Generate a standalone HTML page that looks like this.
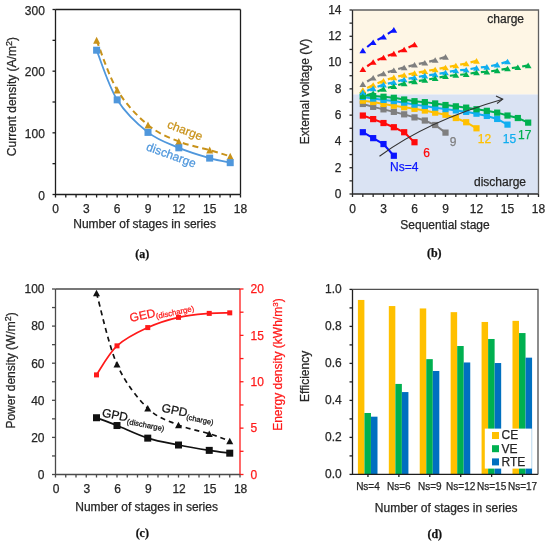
<!DOCTYPE html>
<html><head><meta charset="utf-8"><style>
html,body{margin:0;padding:0;background:#fff;width:550px;height:543px;overflow:hidden}
svg{display:block;filter:blur(0.3px)}
text{font-family:"Liberation Sans", sans-serif}
.ser{font-family:"Liberation Serif",serif;font-weight:bold}
</style></head><body>
<svg width="550" height="543" viewBox="0 0 550 543">
<path d="M55.5,9.5 L55.5,194.5 L240.5,194.5" stroke="#1e1e1e" stroke-width="1.3" fill="none"/><path d="M55.5,9.5 L240.5,9.5" stroke="#1e1e1e" stroke-width="1.3" fill="none"/><path d="M240.5,9.5 L240.5,194.5" stroke="#1e1e1e" stroke-width="1.3" fill="none"/>
<path d="M55.5,194.5 L52.5,194.5" stroke="#1e1e1e" stroke-width="1.3"/><path d="M55.5,163.67 L52.5,163.67" stroke="#1e1e1e" stroke-width="1.3"/><path d="M55.5,132.83 L52.5,132.83" stroke="#1e1e1e" stroke-width="1.3"/><path d="M55.5,102 L52.5,102" stroke="#1e1e1e" stroke-width="1.3"/><path d="M55.5,71.17 L52.5,71.17" stroke="#1e1e1e" stroke-width="1.3"/><path d="M55.5,40.33 L52.5,40.33" stroke="#1e1e1e" stroke-width="1.3"/><path d="M55.5,9.5 L52.5,9.5" stroke="#1e1e1e" stroke-width="1.3"/>
<path d="M55.5,194.5 L55.5,197.5" stroke="#1e1e1e" stroke-width="1.3"/><path d="M65.78,194.5 L65.78,197.5" stroke="#1e1e1e" stroke-width="1.3"/><path d="M76.06,194.5 L76.06,197.5" stroke="#1e1e1e" stroke-width="1.3"/><path d="M86.33,194.5 L86.33,197.5" stroke="#1e1e1e" stroke-width="1.3"/><path d="M96.61,194.5 L96.61,197.5" stroke="#1e1e1e" stroke-width="1.3"/><path d="M106.89,194.5 L106.89,197.5" stroke="#1e1e1e" stroke-width="1.3"/><path d="M117.17,194.5 L117.17,197.5" stroke="#1e1e1e" stroke-width="1.3"/><path d="M127.44,194.5 L127.44,197.5" stroke="#1e1e1e" stroke-width="1.3"/><path d="M137.72,194.5 L137.72,197.5" stroke="#1e1e1e" stroke-width="1.3"/><path d="M148,194.5 L148,197.5" stroke="#1e1e1e" stroke-width="1.3"/><path d="M158.28,194.5 L158.28,197.5" stroke="#1e1e1e" stroke-width="1.3"/><path d="M168.56,194.5 L168.56,197.5" stroke="#1e1e1e" stroke-width="1.3"/><path d="M178.83,194.5 L178.83,197.5" stroke="#1e1e1e" stroke-width="1.3"/><path d="M189.11,194.5 L189.11,197.5" stroke="#1e1e1e" stroke-width="1.3"/><path d="M199.39,194.5 L199.39,197.5" stroke="#1e1e1e" stroke-width="1.3"/><path d="M209.67,194.5 L209.67,197.5" stroke="#1e1e1e" stroke-width="1.3"/><path d="M219.94,194.5 L219.94,197.5" stroke="#1e1e1e" stroke-width="1.3"/><path d="M230.22,194.5 L230.22,197.5" stroke="#1e1e1e" stroke-width="1.3"/><path d="M240.5,194.5 L240.5,197.5" stroke="#1e1e1e" stroke-width="1.3"/>
<text x="44.9" y="199.6" font-size="12" fill="#262626" stroke="#262626" stroke-width="0.25" text-anchor="end" >0</text>
<text x="44.9" y="137.93" font-size="12" fill="#262626" stroke="#262626" stroke-width="0.25" text-anchor="end" >100</text>
<text x="44.9" y="76.27" font-size="12" fill="#262626" stroke="#262626" stroke-width="0.25" text-anchor="end" >200</text>
<text x="44.9" y="14.6" font-size="12" fill="#262626" stroke="#262626" stroke-width="0.25" text-anchor="end" >300</text>
<text x="55.5" y="213.3" font-size="12" fill="#262626" stroke="#262626" stroke-width="0.25" text-anchor="middle" >0</text>
<text x="86.33" y="213.3" font-size="12" fill="#262626" stroke="#262626" stroke-width="0.25" text-anchor="middle" >3</text>
<text x="117.17" y="213.3" font-size="12" fill="#262626" stroke="#262626" stroke-width="0.25" text-anchor="middle" >6</text>
<text x="148" y="213.3" font-size="12" fill="#262626" stroke="#262626" stroke-width="0.25" text-anchor="middle" >9</text>
<text x="178.83" y="213.3" font-size="12" fill="#262626" stroke="#262626" stroke-width="0.25" text-anchor="middle" >12</text>
<text x="209.67" y="213.3" font-size="12" fill="#262626" stroke="#262626" stroke-width="0.25" text-anchor="middle" >15</text>
<text x="240.5" y="213.3" font-size="12" fill="#262626" stroke="#262626" stroke-width="0.25" text-anchor="middle" >18</text>
<text x="144.6" y="227.8" font-size="12" fill="#262626" stroke="#262626" stroke-width="0.25" text-anchor="middle" >Number of stages in series</text>
<text transform="translate(15.7,96.6) rotate(-90)" font-size="12" fill="#262626" stroke="#262626" stroke-width="0.25" text-anchor="middle">Current density (A/m<tspan font-size="9" dy="-4">2</tspan><tspan dy="4">)</tspan></text>
<path d="M96.61,50.2 C100.04,58.47 108.6,86.14 117.17,99.84 C125.73,113.54 137.72,124.41 148,132.4 C158.28,140.4 168.56,143.53 178.83,147.82 C189.11,152.1 201.1,155.64 209.67,158.12 C218.23,160.59 226.8,161.92 230.22,162.68" stroke="#4f97dc" stroke-width="1.8" fill="none"/>
<path d="M96.61,40.33 C100.04,48.61 108.6,75.86 117.17,89.97 C125.73,104.09 137.72,116.42 148,125 C158.28,133.58 168.56,137.28 178.83,141.47 C189.11,145.65 201.1,147.63 209.67,150.1 C218.23,152.57 226.8,155.24 230.22,156.27" stroke="#c8921a" stroke-width="2" fill="none" stroke-dasharray="6,4"/>
<path d="M96.61,36.83 L93.11,43.83 L100.11,43.83 Z" fill="#c8921a"/>
<path d="M117.17,86.47 L113.67,93.47 L120.67,93.47 Z" fill="#c8921a"/>
<path d="M148,121.5 L144.5,128.5 L151.5,128.5 Z" fill="#c8921a"/>
<path d="M178.83,137.97 L175.33,144.97 L182.33,144.97 Z" fill="#c8921a"/>
<path d="M209.67,146.6 L206.17,153.6 L213.17,153.6 Z" fill="#c8921a"/>
<path d="M230.22,152.77 L226.72,159.77 L233.72,159.77 Z" fill="#c8921a"/>
<rect x="93.11" y="46.7" width="7" height="7" fill="#4f97dc"/>
<rect x="113.67" y="96.34" width="7" height="7" fill="#4f97dc"/>
<rect x="144.5" y="128.9" width="7" height="7" fill="#4f97dc"/>
<rect x="175.33" y="144.32" width="7" height="7" fill="#4f97dc"/>
<rect x="206.17" y="154.62" width="7" height="7" fill="#4f97dc"/>
<rect x="226.72" y="159.18" width="7" height="7" fill="#4f97dc"/>
<text x="0" y="0" font-size="12" fill="#c8921a" stroke="#c8921a" stroke-width="0.25" text-anchor="start" transform="translate(166.5,127.5) rotate(21)">charge</text>
<text x="0" y="0" font-size="12" fill="#4f97dc" stroke="#4f97dc" stroke-width="0.25" text-anchor="start" transform="translate(145.5,150) rotate(20)">discharge</text>
<text x="142.2" y="258" class="ser" font-size="12" fill="#111" stroke="#111" stroke-width="0.25" text-anchor="middle">(a)</text>
<rect x="352.5" y="10" width="186" height="84.51" fill="#fef6e5"/>
<rect x="352.5" y="94.51" width="186" height="99.49" fill="#dae3f3"/>
<text x="341.5" y="197.9" font-size="12" fill="#262626" stroke="#262626" stroke-width="0.25" text-anchor="end" >0</text>
<text x="341.5" y="171.61" font-size="12" fill="#262626" stroke="#262626" stroke-width="0.25" text-anchor="end" >2</text>
<text x="341.5" y="145.33" font-size="12" fill="#262626" stroke="#262626" stroke-width="0.25" text-anchor="end" >4</text>
<text x="341.5" y="119.04" font-size="12" fill="#262626" stroke="#262626" stroke-width="0.25" text-anchor="end" >6</text>
<text x="341.5" y="92.76" font-size="12" fill="#262626" stroke="#262626" stroke-width="0.25" text-anchor="end" >8</text>
<text x="341.5" y="66.47" font-size="12" fill="#262626" stroke="#262626" stroke-width="0.25" text-anchor="end" >10</text>
<text x="341.5" y="40.19" font-size="12" fill="#262626" stroke="#262626" stroke-width="0.25" text-anchor="end" >12</text>
<text x="341.5" y="13.9" font-size="12" fill="#262626" stroke="#262626" stroke-width="0.25" text-anchor="end" >14</text>
<text x="352.5" y="213.3" font-size="12" fill="#262626" stroke="#262626" stroke-width="0.25" text-anchor="middle" >0</text>
<text x="383.5" y="213.3" font-size="12" fill="#262626" stroke="#262626" stroke-width="0.25" text-anchor="middle" >3</text>
<text x="414.5" y="213.3" font-size="12" fill="#262626" stroke="#262626" stroke-width="0.25" text-anchor="middle" >6</text>
<text x="445.5" y="213.3" font-size="12" fill="#262626" stroke="#262626" stroke-width="0.25" text-anchor="middle" >9</text>
<text x="476.5" y="213.3" font-size="12" fill="#262626" stroke="#262626" stroke-width="0.25" text-anchor="middle" >12</text>
<text x="507.5" y="213.3" font-size="12" fill="#262626" stroke="#262626" stroke-width="0.25" text-anchor="middle" >15</text>
<text x="538.5" y="213.3" font-size="12" fill="#262626" stroke="#262626" stroke-width="0.25" text-anchor="middle" >18</text>
<text x="445" y="229" font-size="12" fill="#262626" stroke="#262626" stroke-width="0.25" text-anchor="middle" >Sequential stage</text>
<text transform="translate(308.7,91.5) rotate(-90)" font-size="12" fill="#262626" stroke="#262626" stroke-width="0.25" text-anchor="middle">External voltage (V)</text>
<text x="524" y="23.3" font-size="12" fill="#262626" stroke="#262626" stroke-width="0.25" text-anchor="end" >charge</text>
<text x="526" y="186" font-size="12" fill="#262626" stroke="#262626" stroke-width="0.25" text-anchor="end" >discharge</text>
<path d="M362.83,132.23 L373.17,138.14 L383.5,144.06 L393.83,155.75" stroke="#0a14ff" stroke-width="2" fill="none"/>
<rect x="359.73" y="129.13" width="6.2" height="6.2" fill="#0a14ff"/>
<rect x="370.07" y="135.04" width="6.2" height="6.2" fill="#0a14ff"/>
<rect x="380.4" y="140.96" width="6.2" height="6.2" fill="#0a14ff"/>
<rect x="390.73" y="152.65" width="6.2" height="6.2" fill="#0a14ff"/>
<path d="M362.83,115.54 L373.17,119.09 L383.5,123.03 L393.83,127.23 L404.17,132.23 L414.5,142.22" stroke="#ff0a0a" stroke-width="2" fill="none"/>
<rect x="359.73" y="112.44" width="6.2" height="6.2" fill="#ff0a0a"/>
<rect x="370.07" y="115.99" width="6.2" height="6.2" fill="#ff0a0a"/>
<rect x="380.4" y="119.93" width="6.2" height="6.2" fill="#ff0a0a"/>
<rect x="390.73" y="124.13" width="6.2" height="6.2" fill="#ff0a0a"/>
<rect x="401.07" y="129.13" width="6.2" height="6.2" fill="#ff0a0a"/>
<rect x="411.4" y="139.12" width="6.2" height="6.2" fill="#ff0a0a"/>
<path d="M362.83,103.97 L373.17,106.86 L383.5,109.36 L393.83,111.86 L404.17,114.35 L414.5,117.38 L424.83,120.53 L435.17,125 L445.5,132.62" stroke="#7f7f7f" stroke-width="2" fill="none"/>
<rect x="359.73" y="100.87" width="6.2" height="6.2" fill="#7f7f7f"/>
<rect x="370.07" y="103.76" width="6.2" height="6.2" fill="#7f7f7f"/>
<rect x="380.4" y="106.26" width="6.2" height="6.2" fill="#7f7f7f"/>
<rect x="390.73" y="108.76" width="6.2" height="6.2" fill="#7f7f7f"/>
<rect x="401.07" y="111.25" width="6.2" height="6.2" fill="#7f7f7f"/>
<rect x="411.4" y="114.28" width="6.2" height="6.2" fill="#7f7f7f"/>
<rect x="421.73" y="117.43" width="6.2" height="6.2" fill="#7f7f7f"/>
<rect x="432.07" y="121.9" width="6.2" height="6.2" fill="#7f7f7f"/>
<rect x="442.4" y="129.52" width="6.2" height="6.2" fill="#7f7f7f"/>
<path d="M362.83,100.69 L373.17,102 L383.5,103.97 L393.83,105.68 L404.17,107.26 L414.5,108.83 L424.83,110.54 L435.17,112.65 L445.5,114.75 L455.83,118.03 L466.17,122.24 L476.5,128.29" stroke="#ffc000" stroke-width="2" fill="none"/>
<rect x="359.73" y="97.59" width="6.2" height="6.2" fill="#ffc000"/>
<rect x="370.07" y="98.9" width="6.2" height="6.2" fill="#ffc000"/>
<rect x="380.4" y="100.87" width="6.2" height="6.2" fill="#ffc000"/>
<rect x="390.73" y="102.58" width="6.2" height="6.2" fill="#ffc000"/>
<rect x="401.07" y="104.16" width="6.2" height="6.2" fill="#ffc000"/>
<rect x="411.4" y="105.73" width="6.2" height="6.2" fill="#ffc000"/>
<rect x="421.73" y="107.44" width="6.2" height="6.2" fill="#ffc000"/>
<rect x="432.07" y="109.55" width="6.2" height="6.2" fill="#ffc000"/>
<rect x="442.4" y="111.65" width="6.2" height="6.2" fill="#ffc000"/>
<rect x="452.73" y="114.93" width="6.2" height="6.2" fill="#ffc000"/>
<rect x="463.07" y="119.14" width="6.2" height="6.2" fill="#ffc000"/>
<rect x="473.4" y="125.19" width="6.2" height="6.2" fill="#ffc000"/>
<path d="M362.83,97.01 L373.17,98.58 L383.5,99.9 L393.83,101.08 L404.17,102.66 L414.5,104.63 L424.83,105.94 L435.17,107.65 L445.5,109.1 L455.83,110.41 L466.17,111.86 L476.5,113.7 L486.83,115.93 L497.17,118.95 L507.5,124.61" stroke="#10aef0" stroke-width="2" fill="none"/>
<rect x="359.73" y="93.91" width="6.2" height="6.2" fill="#10aef0"/>
<rect x="370.07" y="95.48" width="6.2" height="6.2" fill="#10aef0"/>
<rect x="380.4" y="96.8" width="6.2" height="6.2" fill="#10aef0"/>
<rect x="390.73" y="97.98" width="6.2" height="6.2" fill="#10aef0"/>
<rect x="401.07" y="99.56" width="6.2" height="6.2" fill="#10aef0"/>
<rect x="411.4" y="101.53" width="6.2" height="6.2" fill="#10aef0"/>
<rect x="421.73" y="102.84" width="6.2" height="6.2" fill="#10aef0"/>
<rect x="432.07" y="104.55" width="6.2" height="6.2" fill="#10aef0"/>
<rect x="442.4" y="106" width="6.2" height="6.2" fill="#10aef0"/>
<rect x="452.73" y="107.31" width="6.2" height="6.2" fill="#10aef0"/>
<rect x="463.07" y="108.76" width="6.2" height="6.2" fill="#10aef0"/>
<rect x="473.4" y="110.6" width="6.2" height="6.2" fill="#10aef0"/>
<rect x="483.73" y="112.83" width="6.2" height="6.2" fill="#10aef0"/>
<rect x="494.07" y="115.85" width="6.2" height="6.2" fill="#10aef0"/>
<rect x="504.4" y="121.51" width="6.2" height="6.2" fill="#10aef0"/>
<path d="M362.83,95.17 L373.17,96.09 L383.5,96.74 L393.83,97.79 L404.17,99.5 L414.5,101.21 L424.83,102.13 L435.17,103.45 L445.5,105.02 L455.83,106.34 L466.17,107.65 L476.5,109.23 L486.83,110.81 L497.17,112.65 L507.5,115.54 L517.83,118.03 L528.17,122.63" stroke="#00b050" stroke-width="2" fill="none"/>
<rect x="359.73" y="92.07" width="6.2" height="6.2" fill="#00b050"/>
<rect x="370.07" y="92.99" width="6.2" height="6.2" fill="#00b050"/>
<rect x="380.4" y="93.64" width="6.2" height="6.2" fill="#00b050"/>
<rect x="390.73" y="94.69" width="6.2" height="6.2" fill="#00b050"/>
<rect x="401.07" y="96.4" width="6.2" height="6.2" fill="#00b050"/>
<rect x="411.4" y="98.11" width="6.2" height="6.2" fill="#00b050"/>
<rect x="421.73" y="99.03" width="6.2" height="6.2" fill="#00b050"/>
<rect x="432.07" y="100.35" width="6.2" height="6.2" fill="#00b050"/>
<rect x="442.4" y="101.92" width="6.2" height="6.2" fill="#00b050"/>
<rect x="452.73" y="103.24" width="6.2" height="6.2" fill="#00b050"/>
<rect x="463.07" y="104.55" width="6.2" height="6.2" fill="#00b050"/>
<rect x="473.4" y="106.13" width="6.2" height="6.2" fill="#00b050"/>
<rect x="483.73" y="107.71" width="6.2" height="6.2" fill="#00b050"/>
<rect x="494.07" y="109.55" width="6.2" height="6.2" fill="#00b050"/>
<rect x="504.4" y="112.44" width="6.2" height="6.2" fill="#00b050"/>
<rect x="514.73" y="114.93" width="6.2" height="6.2" fill="#00b050"/>
<rect x="525.07" y="119.53" width="6.2" height="6.2" fill="#00b050"/>
<path d="M367.17,47 L373.17,42.2 M377.51,39.88 L383.5,36.68 M387.84,33.81 L393.83,29.85 " stroke="#0a14ff" stroke-width="2.2" fill="none"/>
<path d="M362.83,47.68 L359.43,53.28 L366.23,53.28 Z" fill="#0a14ff"/>
<path d="M373.17,39.4 L369.77,45 L376.57,45 Z" fill="#0a14ff"/>
<path d="M383.5,33.88 L380.1,39.48 L386.9,39.48 Z" fill="#0a14ff"/>
<path d="M393.83,27.05 L390.43,32.65 L397.23,32.65 Z" fill="#0a14ff"/>
<path d="M367.17,66.24 L373.17,62.05 M377.51,60.11 L383.5,57.45 M387.84,55.84 L393.83,53.63 M398.17,51.92 L404.17,49.56 M408.51,47.41 L414.5,44.43 " stroke="#ff0a0a" stroke-width="2.2" fill="none"/>
<path d="M362.83,66.47 L359.43,72.07 L366.23,72.07 Z" fill="#ff0a0a"/>
<path d="M373.17,59.25 L369.77,64.85 L376.57,64.85 Z" fill="#ff0a0a"/>
<path d="M383.5,54.65 L380.1,60.25 L386.9,60.25 Z" fill="#ff0a0a"/>
<path d="M393.83,50.83 L390.43,56.43 L397.23,56.43 Z" fill="#ff0a0a"/>
<path d="M404.17,46.76 L400.77,52.36 L407.57,52.36 Z" fill="#ff0a0a"/>
<path d="M414.5,41.63 L411.1,47.23 L417.9,47.23 Z" fill="#ff0a0a"/>
<path d="M367.17,81.48 L373.17,77.82 M377.51,76 L383.5,73.48 M387.84,72.1 L393.83,70.19 M398.17,69.04 L404.17,67.43 M408.51,66.33 L414.5,64.81 M418.84,63.92 L424.83,62.7 M429.17,61.6 L435.17,60.07 M439.51,58.75 L445.5,56.92 " stroke="#7f7f7f" stroke-width="2.2" fill="none"/>
<path d="M362.83,81.33 L359.43,86.93 L366.23,86.93 Z" fill="#7f7f7f"/>
<path d="M373.17,75.02 L369.77,80.62 L376.57,80.62 Z" fill="#7f7f7f"/>
<path d="M383.5,70.68 L380.1,76.28 L386.9,76.28 Z" fill="#7f7f7f"/>
<path d="M393.83,67.39 L390.43,72.99 L397.23,72.99 Z" fill="#7f7f7f"/>
<path d="M404.17,64.63 L400.77,70.23 L407.57,70.23 Z" fill="#7f7f7f"/>
<path d="M414.5,62.01 L411.1,67.61 L417.9,67.61 Z" fill="#7f7f7f"/>
<path d="M424.83,59.9 L421.43,65.5 L428.23,65.5 Z" fill="#7f7f7f"/>
<path d="M435.17,57.27 L431.77,62.87 L438.57,62.87 Z" fill="#7f7f7f"/>
<path d="M445.5,54.12 L442.1,59.72 L448.9,59.72 Z" fill="#7f7f7f"/>
<path d="M367.17,87.94 L373.17,85.05 M377.51,83.28 L383.5,80.84 M387.84,79.4 L393.83,77.42 M398.17,76.43 L404.17,75.06 M408.51,74.23 L414.5,73.09 M418.84,72.31 L424.83,71.25 M429.17,70.53 L435.17,69.54 M439.51,68.65 L445.5,67.43 M449.84,66.61 L455.83,65.46 M460.17,64.63 L466.17,63.49 M470.51,62.39 L476.5,60.86 " stroke="#ffc000" stroke-width="2.2" fill="none"/>
<path d="M362.83,87.24 L359.43,92.84 L366.23,92.84 Z" fill="#ffc000"/>
<path d="M373.17,82.25 L369.77,87.85 L376.57,87.85 Z" fill="#ffc000"/>
<path d="M383.5,78.04 L380.1,83.64 L386.9,83.64 Z" fill="#ffc000"/>
<path d="M393.83,74.62 L390.43,80.22 L397.23,80.22 Z" fill="#ffc000"/>
<path d="M404.17,72.26 L400.77,77.86 L407.57,77.86 Z" fill="#ffc000"/>
<path d="M414.5,70.29 L411.1,75.89 L417.9,75.89 Z" fill="#ffc000"/>
<path d="M424.83,68.45 L421.43,74.05 L428.23,74.05 Z" fill="#ffc000"/>
<path d="M435.17,66.74 L431.77,72.34 L438.57,72.34 Z" fill="#ffc000"/>
<path d="M445.5,64.63 L442.1,70.23 L448.9,70.23 Z" fill="#ffc000"/>
<path d="M455.83,62.66 L452.43,68.26 L459.23,68.26 Z" fill="#ffc000"/>
<path d="M466.17,60.69 L462.77,66.29 L469.57,66.29 Z" fill="#ffc000"/>
<path d="M476.5,58.06 L473.1,63.66 L479.9,63.66 Z" fill="#ffc000"/>
<path d="M367.17,90.69 L373.17,88.33 M377.51,86.79 L383.5,84.65 M387.84,83.66 L393.83,82.29 M398.17,81.13 L404.17,79.53 M408.51,78.7 L414.5,77.55 M418.84,76.73 L424.83,75.58 M429.17,75.09 L435.17,74.4 M439.51,73.63 L445.5,72.56 M449.84,71.68 L455.83,70.46 M460.17,70.18 L466.17,69.8 M470.51,68.97 L476.5,67.83 M480.84,67.44 L486.83,66.91 M491.17,65.97 L497.17,64.67 M501.51,63.35 L507.5,61.52 " stroke="#10aef0" stroke-width="2.2" fill="none"/>
<path d="M362.83,89.61 L359.43,95.21 L366.23,95.21 Z" fill="#10aef0"/>
<path d="M373.17,85.53 L369.77,91.13 L376.57,91.13 Z" fill="#10aef0"/>
<path d="M383.5,81.85 L380.1,87.45 L386.9,87.45 Z" fill="#10aef0"/>
<path d="M393.83,79.49 L390.43,85.09 L397.23,85.09 Z" fill="#10aef0"/>
<path d="M404.17,76.73 L400.77,82.33 L407.57,82.33 Z" fill="#10aef0"/>
<path d="M414.5,74.75 L411.1,80.35 L417.9,80.35 Z" fill="#10aef0"/>
<path d="M424.83,72.78 L421.43,78.38 L428.23,78.38 Z" fill="#10aef0"/>
<path d="M435.17,71.6 L431.77,77.2 L438.57,77.2 Z" fill="#10aef0"/>
<path d="M445.5,69.76 L442.1,75.36 L448.9,75.36 Z" fill="#10aef0"/>
<path d="M455.83,67.66 L452.43,73.26 L459.23,73.26 Z" fill="#10aef0"/>
<path d="M466.17,67 L462.77,72.6 L469.57,72.6 Z" fill="#10aef0"/>
<path d="M476.5,65.03 L473.1,70.63 L479.9,70.63 Z" fill="#10aef0"/>
<path d="M486.83,64.11 L483.43,69.71 L490.23,69.71 Z" fill="#10aef0"/>
<path d="M497.17,61.87 L493.77,67.47 L500.57,67.47 Z" fill="#10aef0"/>
<path d="M507.5,58.72 L504.1,64.32 L510.9,64.32 Z" fill="#10aef0"/>
<path d="M367.17,95 L373.17,93.33 M377.51,91.45 L383.5,88.86 M387.84,87.75 L393.83,86.23 M398.17,85.01 L404.17,83.34 M408.51,82.51 L414.5,81.37 M418.84,80.81 L424.83,80.05 M429.17,79.28 L435.17,78.21 M439.51,77.38 L445.5,76.24 M449.84,75.74 L455.83,75.06 M460.17,74.73 L466.17,74.27 M470.51,73.5 L476.5,72.43 M480.84,72.15 L486.83,71.77 M491.17,71.22 L497.17,70.46 M501.51,69.63 L507.5,68.49 M511.84,67.99 L517.83,67.3 M522.17,66.47 L528.17,65.33 " stroke="#00b050" stroke-width="2.2" fill="none"/>
<path d="M362.83,93.42 L359.43,99.02 L366.23,99.02 Z" fill="#00b050"/>
<path d="M373.17,90.53 L369.77,96.13 L376.57,96.13 Z" fill="#00b050"/>
<path d="M383.5,86.06 L380.1,91.66 L386.9,91.66 Z" fill="#00b050"/>
<path d="M393.83,83.43 L390.43,89.03 L397.23,89.03 Z" fill="#00b050"/>
<path d="M404.17,80.54 L400.77,86.14 L407.57,86.14 Z" fill="#00b050"/>
<path d="M414.5,78.57 L411.1,84.17 L417.9,84.17 Z" fill="#00b050"/>
<path d="M424.83,77.25 L421.43,82.85 L428.23,82.85 Z" fill="#00b050"/>
<path d="M435.17,75.41 L431.77,81.01 L438.57,81.01 Z" fill="#00b050"/>
<path d="M445.5,73.44 L442.1,79.04 L448.9,79.04 Z" fill="#00b050"/>
<path d="M455.83,72.26 L452.43,77.86 L459.23,77.86 Z" fill="#00b050"/>
<path d="M466.17,71.47 L462.77,77.07 L469.57,77.07 Z" fill="#00b050"/>
<path d="M476.5,69.63 L473.1,75.23 L479.9,75.23 Z" fill="#00b050"/>
<path d="M486.83,68.97 L483.43,74.57 L490.23,74.57 Z" fill="#00b050"/>
<path d="M497.17,67.66 L493.77,73.26 L500.57,73.26 Z" fill="#00b050"/>
<path d="M507.5,65.69 L504.1,71.29 L510.9,71.29 Z" fill="#00b050"/>
<path d="M517.83,64.5 L514.43,70.1 L521.23,70.1 Z" fill="#00b050"/>
<path d="M528.17,62.53 L524.77,68.13 L531.57,68.13 Z" fill="#00b050"/>
<path d="M379.5,156.2 Q427,121 502.7,99.2" stroke="#333" stroke-width="1.1" fill="none"/>
<path d="M496,96 L502.7,99.2 L497,103.5" stroke="#333" stroke-width="1.1" fill="none"/>
<text x="390" y="170.6" font-size="12" fill="#0a14ff" stroke="#0a14ff" stroke-width="0.25" text-anchor="start" >Ns=4</text>
<text x="426.5" y="157" font-size="12" fill="#ff0a0a" stroke="#ff0a0a" stroke-width="0.25" text-anchor="middle" >6</text>
<text x="453" y="146" font-size="12" fill="#7f7f7f" stroke="#7f7f7f" stroke-width="0.25" text-anchor="middle" >9</text>
<text x="484.5" y="142.6" font-size="12" fill="#ffc000" stroke="#ffc000" stroke-width="0.25" text-anchor="middle" >12</text>
<text x="509.5" y="142.6" font-size="12" fill="#10aef0" stroke="#10aef0" stroke-width="0.25" text-anchor="middle" >15</text>
<text x="524.8" y="139" font-size="12" fill="#00b050" stroke="#00b050" stroke-width="0.25" text-anchor="middle" >17</text>
<path d="M352.5,10 L352.5,194 L538.5,194" stroke="#2a2a2a" stroke-width="1.3" fill="none"/>
<path d="M352.5,10 L538.5,10 L538.5,194" stroke="#606060" stroke-width="1.3" fill="none"/>
<path d="M352.5,194 L349.5,194" stroke="#2a2a2a" stroke-width="1.3"/><path d="M352.5,180.86 L349.5,180.86" stroke="#2a2a2a" stroke-width="1.3"/><path d="M352.5,167.71 L349.5,167.71" stroke="#2a2a2a" stroke-width="1.3"/><path d="M352.5,154.57 L349.5,154.57" stroke="#2a2a2a" stroke-width="1.3"/><path d="M352.5,141.43 L349.5,141.43" stroke="#2a2a2a" stroke-width="1.3"/><path d="M352.5,128.29 L349.5,128.29" stroke="#2a2a2a" stroke-width="1.3"/><path d="M352.5,115.14 L349.5,115.14" stroke="#2a2a2a" stroke-width="1.3"/><path d="M352.5,102 L349.5,102" stroke="#2a2a2a" stroke-width="1.3"/><path d="M352.5,88.86 L349.5,88.86" stroke="#2a2a2a" stroke-width="1.3"/><path d="M352.5,75.71 L349.5,75.71" stroke="#2a2a2a" stroke-width="1.3"/><path d="M352.5,62.57 L349.5,62.57" stroke="#2a2a2a" stroke-width="1.3"/><path d="M352.5,49.43 L349.5,49.43" stroke="#2a2a2a" stroke-width="1.3"/><path d="M352.5,36.29 L349.5,36.29" stroke="#2a2a2a" stroke-width="1.3"/><path d="M352.5,23.14 L349.5,23.14" stroke="#2a2a2a" stroke-width="1.3"/><path d="M352.5,10 L349.5,10" stroke="#2a2a2a" stroke-width="1.3"/>
<path d="M352.5,194 L352.5,197" stroke="#2a2a2a" stroke-width="1.3"/><path d="M362.83,194 L362.83,197" stroke="#2a2a2a" stroke-width="1.3"/><path d="M373.17,194 L373.17,197" stroke="#2a2a2a" stroke-width="1.3"/><path d="M383.5,194 L383.5,197" stroke="#2a2a2a" stroke-width="1.3"/><path d="M393.83,194 L393.83,197" stroke="#2a2a2a" stroke-width="1.3"/><path d="M404.17,194 L404.17,197" stroke="#2a2a2a" stroke-width="1.3"/><path d="M414.5,194 L414.5,197" stroke="#2a2a2a" stroke-width="1.3"/><path d="M424.83,194 L424.83,197" stroke="#2a2a2a" stroke-width="1.3"/><path d="M435.17,194 L435.17,197" stroke="#2a2a2a" stroke-width="1.3"/><path d="M445.5,194 L445.5,197" stroke="#2a2a2a" stroke-width="1.3"/><path d="M455.83,194 L455.83,197" stroke="#2a2a2a" stroke-width="1.3"/><path d="M466.17,194 L466.17,197" stroke="#2a2a2a" stroke-width="1.3"/><path d="M476.5,194 L476.5,197" stroke="#2a2a2a" stroke-width="1.3"/><path d="M486.83,194 L486.83,197" stroke="#2a2a2a" stroke-width="1.3"/><path d="M497.17,194 L497.17,197" stroke="#2a2a2a" stroke-width="1.3"/><path d="M507.5,194 L507.5,197" stroke="#2a2a2a" stroke-width="1.3"/><path d="M517.83,194 L517.83,197" stroke="#2a2a2a" stroke-width="1.3"/><path d="M528.17,194 L528.17,197" stroke="#2a2a2a" stroke-width="1.3"/><path d="M538.5,194 L538.5,197" stroke="#2a2a2a" stroke-width="1.3"/>
<text x="434.3" y="257" class="ser" font-size="12" fill="#111" stroke="#111" stroke-width="0.25" text-anchor="middle">(b)</text>
<path d="M55.5,289 L55.5,474.5 L240,474.5" stroke="#4a4a4a" stroke-width="1.3" fill="none"/><path d="M55.5,289 L240,289" stroke="#4a4a4a" stroke-width="1.3" fill="none"/>
<path d="M240,289 L240,474.5" stroke="#ff1a1a" stroke-width="1.3"/>
<path d="M55.5,474.5 L52,474.5" stroke="#4a4a4a" stroke-width="1.3"/><path d="M55.5,455.95 L52,455.95" stroke="#4a4a4a" stroke-width="1.3"/><path d="M55.5,437.4 L52,437.4" stroke="#4a4a4a" stroke-width="1.3"/><path d="M55.5,418.85 L52,418.85" stroke="#4a4a4a" stroke-width="1.3"/><path d="M55.5,400.3 L52,400.3" stroke="#4a4a4a" stroke-width="1.3"/><path d="M55.5,381.75 L52,381.75" stroke="#4a4a4a" stroke-width="1.3"/><path d="M55.5,363.2 L52,363.2" stroke="#4a4a4a" stroke-width="1.3"/><path d="M55.5,344.65 L52,344.65" stroke="#4a4a4a" stroke-width="1.3"/><path d="M55.5,326.1 L52,326.1" stroke="#4a4a4a" stroke-width="1.3"/><path d="M55.5,307.55 L52,307.55" stroke="#4a4a4a" stroke-width="1.3"/><path d="M55.5,289 L52,289" stroke="#4a4a4a" stroke-width="1.3"/>
<path d="M240,474.5 L243.5,474.5" stroke="#ff1a1a" stroke-width="1.3"/><path d="M240,451.31 L243.5,451.31" stroke="#ff1a1a" stroke-width="1.3"/><path d="M240,428.12 L243.5,428.12" stroke="#ff1a1a" stroke-width="1.3"/><path d="M240,404.94 L243.5,404.94" stroke="#ff1a1a" stroke-width="1.3"/><path d="M240,381.75 L243.5,381.75" stroke="#ff1a1a" stroke-width="1.3"/><path d="M240,358.56 L243.5,358.56" stroke="#ff1a1a" stroke-width="1.3"/><path d="M240,335.38 L243.5,335.38" stroke="#ff1a1a" stroke-width="1.3"/><path d="M240,312.19 L243.5,312.19" stroke="#ff1a1a" stroke-width="1.3"/><path d="M240,289 L243.5,289" stroke="#ff1a1a" stroke-width="1.3"/>
<path d="M55.5,474.5 L55.5,477.5" stroke="#4a4a4a" stroke-width="1.3"/><path d="M65.75,474.5 L65.75,477.5" stroke="#4a4a4a" stroke-width="1.3"/><path d="M76,474.5 L76,477.5" stroke="#4a4a4a" stroke-width="1.3"/><path d="M86.25,474.5 L86.25,477.5" stroke="#4a4a4a" stroke-width="1.3"/><path d="M96.5,474.5 L96.5,477.5" stroke="#4a4a4a" stroke-width="1.3"/><path d="M106.75,474.5 L106.75,477.5" stroke="#4a4a4a" stroke-width="1.3"/><path d="M117,474.5 L117,477.5" stroke="#4a4a4a" stroke-width="1.3"/><path d="M127.25,474.5 L127.25,477.5" stroke="#4a4a4a" stroke-width="1.3"/><path d="M137.5,474.5 L137.5,477.5" stroke="#4a4a4a" stroke-width="1.3"/><path d="M147.75,474.5 L147.75,477.5" stroke="#4a4a4a" stroke-width="1.3"/><path d="M158,474.5 L158,477.5" stroke="#4a4a4a" stroke-width="1.3"/><path d="M168.25,474.5 L168.25,477.5" stroke="#4a4a4a" stroke-width="1.3"/><path d="M178.5,474.5 L178.5,477.5" stroke="#4a4a4a" stroke-width="1.3"/><path d="M188.75,474.5 L188.75,477.5" stroke="#4a4a4a" stroke-width="1.3"/><path d="M199,474.5 L199,477.5" stroke="#4a4a4a" stroke-width="1.3"/><path d="M209.25,474.5 L209.25,477.5" stroke="#4a4a4a" stroke-width="1.3"/><path d="M219.5,474.5 L219.5,477.5" stroke="#4a4a4a" stroke-width="1.3"/><path d="M229.75,474.5 L229.75,477.5" stroke="#4a4a4a" stroke-width="1.3"/><path d="M240,474.5 L240,477.5" stroke="#4a4a4a" stroke-width="1.3"/>
<text x="44.5" y="478.8" font-size="12" fill="#262626" stroke="#262626" stroke-width="0.25" text-anchor="end" >0</text>
<text x="44.5" y="441.7" font-size="12" fill="#262626" stroke="#262626" stroke-width="0.25" text-anchor="end" >20</text>
<text x="44.5" y="404.6" font-size="12" fill="#262626" stroke="#262626" stroke-width="0.25" text-anchor="end" >40</text>
<text x="44.5" y="367.5" font-size="12" fill="#262626" stroke="#262626" stroke-width="0.25" text-anchor="end" >60</text>
<text x="44.5" y="330.4" font-size="12" fill="#262626" stroke="#262626" stroke-width="0.25" text-anchor="end" >80</text>
<text x="44.5" y="293.3" font-size="12" fill="#262626" stroke="#262626" stroke-width="0.25" text-anchor="end" >100</text>
<text x="250.5" y="478.8" font-size="12" fill="#ff1a1a" stroke="#ff1a1a" stroke-width="0.25" text-anchor="start" >0</text>
<text x="250.5" y="432.43" font-size="12" fill="#ff1a1a" stroke="#ff1a1a" stroke-width="0.25" text-anchor="start" >5</text>
<text x="250.5" y="386.05" font-size="12" fill="#ff1a1a" stroke="#ff1a1a" stroke-width="0.25" text-anchor="start" >10</text>
<text x="250.5" y="339.68" font-size="12" fill="#ff1a1a" stroke="#ff1a1a" stroke-width="0.25" text-anchor="start" >15</text>
<text x="250.5" y="293.3" font-size="12" fill="#ff1a1a" stroke="#ff1a1a" stroke-width="0.25" text-anchor="start" >20</text>
<text x="56.1" y="493.1" font-size="12" fill="#262626" stroke="#262626" stroke-width="0.25" text-anchor="middle" >0</text>
<text x="86.85" y="493.1" font-size="12" fill="#262626" stroke="#262626" stroke-width="0.25" text-anchor="middle" >3</text>
<text x="117.6" y="493.1" font-size="12" fill="#262626" stroke="#262626" stroke-width="0.25" text-anchor="middle" >6</text>
<text x="148.35" y="493.1" font-size="12" fill="#262626" stroke="#262626" stroke-width="0.25" text-anchor="middle" >9</text>
<text x="179.1" y="493.1" font-size="12" fill="#262626" stroke="#262626" stroke-width="0.25" text-anchor="middle" >12</text>
<text x="209.85" y="493.1" font-size="12" fill="#262626" stroke="#262626" stroke-width="0.25" text-anchor="middle" >15</text>
<text x="240.6" y="493.1" font-size="12" fill="#262626" stroke="#262626" stroke-width="0.25" text-anchor="middle" >18</text>
<text x="146.6" y="511.2" font-size="12" fill="#262626" stroke="#262626" stroke-width="0.25" text-anchor="middle" >Number of stages in series</text>
<text transform="translate(15,370.4) rotate(-90)" font-size="12" fill="#262626" stroke="#262626" stroke-width="0.25" text-anchor="middle">Power density (W/m<tspan font-size="9" dy="-4">2</tspan><tspan dy="4">)</tspan></text>
<text transform="translate(282,364.6) rotate(-90)" font-size="12" fill="#ff1a1a" stroke="#ff1a1a" stroke-width="0.25" text-anchor="middle">Energy density (kWh/m<tspan font-size="8" dy="-4">3</tspan><tspan dy="4">)</tspan></text>
<path d="M96.5,417.74 C99.92,419.04 108.46,422.13 117,425.53 C125.54,428.93 137.5,434.9 147.75,438.14 C158,441.39 168.25,442.96 178.5,445.01 C188.75,447.05 200.71,449.02 209.25,450.38 C217.79,451.75 226.33,452.7 229.75,453.17" stroke="#111" stroke-width="1.7" fill="none"/>
<path d="M96.5,293.08 C99.92,304.95 108.46,345.11 117,364.31 C125.54,383.51 137.5,398.17 147.75,408.28 C158,418.39 168.25,420.74 178.5,424.97 C188.75,429.21 200.71,431.03 209.25,433.69 C217.79,436.35 226.33,439.72 229.75,440.92" stroke="#111" stroke-width="1.7" fill="none" stroke-dasharray="5,4"/>
<path d="M96.5,374.89 C99.92,370.05 108.46,353.74 117,345.86 C125.54,337.97 137.5,332.33 147.75,327.58 C158,322.84 168.25,319.75 178.5,317.38 C188.75,315.02 200.71,314.15 209.25,313.39 C217.79,312.64 226.33,312.93 229.75,312.84" stroke="#ff1a1a" stroke-width="1.7" fill="none"/>
<rect x="93" y="414.24" width="7" height="7" fill="#111"/>
<rect x="113.5" y="422.03" width="7" height="7" fill="#111"/>
<rect x="144.25" y="434.64" width="7" height="7" fill="#111"/>
<rect x="175" y="441.51" width="7" height="7" fill="#111"/>
<rect x="205.75" y="446.88" width="7" height="7" fill="#111"/>
<rect x="226.25" y="449.67" width="7" height="7" fill="#111"/>
<path d="M96.5,289.83 L93,296.33 L100,296.33 Z" fill="#111"/>
<path d="M117,361.06 L113.5,367.56 L120.5,367.56 Z" fill="#111"/>
<path d="M147.75,405.03 L144.25,411.53 L151.25,411.53 Z" fill="#111"/>
<path d="M178.5,421.72 L175,428.22 L182,428.22 Z" fill="#111"/>
<path d="M209.25,430.44 L205.75,436.94 L212.75,436.94 Z" fill="#111"/>
<path d="M229.75,437.67 L226.25,444.17 L233.25,444.17 Z" fill="#111"/>
<rect x="94" y="372.39" width="5" height="5" fill="#ff1a1a"/>
<rect x="114.5" y="343.36" width="5" height="5" fill="#ff1a1a"/>
<rect x="145.25" y="325.08" width="5" height="5" fill="#ff1a1a"/>
<rect x="176" y="314.88" width="5" height="5" fill="#ff1a1a"/>
<rect x="206.75" y="310.89" width="5" height="5" fill="#ff1a1a"/>
<rect x="227.25" y="310.34" width="5" height="5" fill="#ff1a1a"/>
<text transform="translate(130.5,322) rotate(-12)" font-size="12" fill="#ff1a1a" stroke="#ff1a1a" stroke-width="0.25">GED<tspan font-size="7.8" dy="2.5">(discharge)</tspan></text>
<text transform="translate(101.5,416.5) rotate(11)" font-size="12" fill="#111" stroke="#111" stroke-width="0.25">GPD<tspan font-size="7.6" dy="2.5">(discharge)</tspan></text>
<text transform="translate(161,411.5) rotate(12)" font-size="12" fill="#111" stroke="#111" stroke-width="0.25">GPD<tspan font-size="7.4" dy="2.5">(charge)</tspan></text>
<text x="142.3" y="537.3" class="ser" font-size="12" fill="#111" stroke="#111" stroke-width="0.25" text-anchor="middle">(c)</text>
<rect x="357.9" y="299.94" width="6.5" height="174.45" fill="#ffc000"/>
<rect x="364.45" y="412.98" width="6.5" height="61.42" fill="#00b050"/>
<rect x="371" y="416.68" width="6.5" height="57.72" fill="#0070c0"/>
<text x="367.96" y="490" font-size="10" fill="#262626" stroke="#262626" stroke-width="0.25" text-anchor="middle" >Ns=4</text>
<rect x="388.82" y="306.05" width="6.5" height="168.35" fill="#ffc000"/>
<rect x="395.37" y="383.93" width="6.5" height="90.47" fill="#00b050"/>
<rect x="401.92" y="392.07" width="6.5" height="82.32" fill="#0070c0"/>
<text x="398.88" y="490" font-size="10" fill="#262626" stroke="#262626" stroke-width="0.25" text-anchor="middle" >Ns=6</text>
<rect x="419.73" y="308.45" width="6.5" height="165.94" fill="#ffc000"/>
<rect x="426.28" y="359.14" width="6.5" height="115.25" fill="#00b050"/>
<rect x="432.83" y="370.98" width="6.5" height="103.42" fill="#0070c0"/>
<text x="429.79" y="490" font-size="10" fill="#262626" stroke="#262626" stroke-width="0.25" text-anchor="middle" >Ns=9</text>
<rect x="450.65" y="312.15" width="6.5" height="162.25" fill="#ffc000"/>
<rect x="457.2" y="346.01" width="6.5" height="128.39" fill="#00b050"/>
<rect x="463.75" y="362.47" width="6.5" height="111.93" fill="#0070c0"/>
<text x="460.71" y="490" font-size="10" fill="#262626" stroke="#262626" stroke-width="0.25" text-anchor="middle" >Ns=12</text>
<rect x="481.57" y="321.96" width="6.5" height="152.44" fill="#ffc000"/>
<rect x="488.12" y="338.98" width="6.5" height="135.42" fill="#00b050"/>
<rect x="494.67" y="363.03" width="6.5" height="111.37" fill="#0070c0"/>
<text x="491.62" y="490" font-size="10" fill="#262626" stroke="#262626" stroke-width="0.25" text-anchor="middle" >Ns=15</text>
<rect x="512.48" y="320.85" width="6.5" height="153.55" fill="#ffc000"/>
<rect x="519.03" y="333.06" width="6.5" height="141.34" fill="#00b050"/>
<rect x="525.58" y="357.66" width="6.5" height="116.74" fill="#0070c0"/>
<text x="522.54" y="490" font-size="10" fill="#262626" stroke="#262626" stroke-width="0.25" text-anchor="middle" >Ns=17</text>
<rect x="484.8" y="428.6" width="47" height="40" fill="#fff"/>
<rect x="492" y="432" width="7" height="7" fill="#ffc000"/>
<text x="501.5" y="439.4" font-size="12" fill="#262626" stroke="#262626" stroke-width="0.25" text-anchor="start" >CE</text>
<rect x="492" y="445.2" width="7" height="7" fill="#00b050"/>
<text x="501.5" y="452.6" font-size="12" fill="#262626" stroke="#262626" stroke-width="0.25" text-anchor="start" >VE</text>
<rect x="492" y="458.4" width="7" height="7" fill="#0070c0"/>
<text x="501.5" y="465.8" font-size="12" fill="#262626" stroke="#262626" stroke-width="0.25" text-anchor="start" >RTE</text>
<path d="M352.5,289.4 L352.5,474.4 L538,474.4" stroke="#1e1e1e" stroke-width="1.3" fill="none"/>
<path d="M352.5,289.4 L538,289.4 L538,474.4" stroke="#505050" stroke-width="1.3" fill="none"/>
<path d="M352.5,474.4 L349.5,474.4" stroke="#1e1e1e" stroke-width="1.3"/><path d="M352.5,455.9 L349.5,455.9" stroke="#1e1e1e" stroke-width="1.3"/><path d="M352.5,437.4 L349.5,437.4" stroke="#1e1e1e" stroke-width="1.3"/><path d="M352.5,418.9 L349.5,418.9" stroke="#1e1e1e" stroke-width="1.3"/><path d="M352.5,400.4 L349.5,400.4" stroke="#1e1e1e" stroke-width="1.3"/><path d="M352.5,381.9 L349.5,381.9" stroke="#1e1e1e" stroke-width="1.3"/><path d="M352.5,363.4 L349.5,363.4" stroke="#1e1e1e" stroke-width="1.3"/><path d="M352.5,344.9 L349.5,344.9" stroke="#1e1e1e" stroke-width="1.3"/><path d="M352.5,326.4 L349.5,326.4" stroke="#1e1e1e" stroke-width="1.3"/><path d="M352.5,307.9 L349.5,307.9" stroke="#1e1e1e" stroke-width="1.3"/><path d="M352.5,289.4 L349.5,289.4" stroke="#1e1e1e" stroke-width="1.3"/>
<path d="M367.96,474.4 L367.96,476.9" stroke="#1e1e1e" stroke-width="1.3"/><path d="M398.88,474.4 L398.88,476.9" stroke="#1e1e1e" stroke-width="1.3"/><path d="M429.79,474.4 L429.79,476.9" stroke="#1e1e1e" stroke-width="1.3"/><path d="M460.71,474.4 L460.71,476.9" stroke="#1e1e1e" stroke-width="1.3"/><path d="M491.62,474.4 L491.62,476.9" stroke="#1e1e1e" stroke-width="1.3"/><path d="M522.54,474.4 L522.54,476.9" stroke="#1e1e1e" stroke-width="1.3"/>
<text x="341.7" y="478" font-size="12" fill="#262626" stroke="#262626" stroke-width="0.25" text-anchor="end" >0.0</text>
<text x="341.7" y="441" font-size="12" fill="#262626" stroke="#262626" stroke-width="0.25" text-anchor="end" >0.2</text>
<text x="341.7" y="404" font-size="12" fill="#262626" stroke="#262626" stroke-width="0.25" text-anchor="end" >0.4</text>
<text x="341.7" y="367" font-size="12" fill="#262626" stroke="#262626" stroke-width="0.25" text-anchor="end" >0.6</text>
<text x="341.7" y="330" font-size="12" fill="#262626" stroke="#262626" stroke-width="0.25" text-anchor="end" >0.8</text>
<text x="341.7" y="293" font-size="12" fill="#262626" stroke="#262626" stroke-width="0.25" text-anchor="end" >1.0</text>
<text x="446.2" y="512" font-size="12" fill="#262626" stroke="#262626" stroke-width="0.25" text-anchor="middle" >Number of stages in series</text>
<text transform="translate(308.6,376.4) rotate(-90)" font-size="12" fill="#262626" stroke="#262626" stroke-width="0.25" text-anchor="middle">Efficiency</text>
<text x="434.8" y="538" class="ser" font-size="12" fill="#111" stroke="#111" stroke-width="0.25" text-anchor="middle">(d)</text>
</svg></body></html>
